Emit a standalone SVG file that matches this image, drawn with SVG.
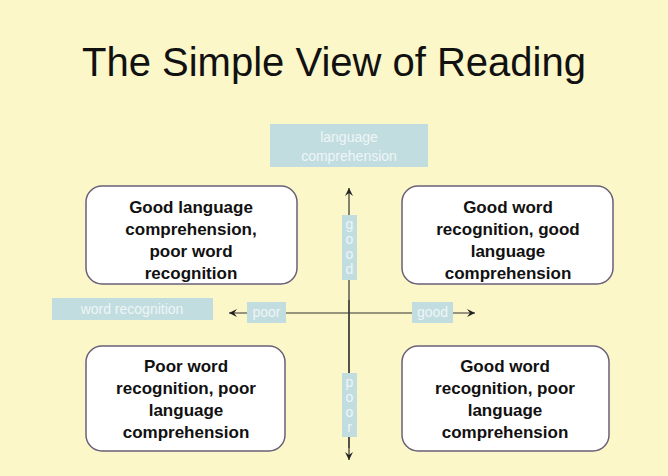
<svg xmlns="http://www.w3.org/2000/svg" width="668" height="476" viewBox="0 0 668 476">
<defs><marker id="a" markerWidth="10" markerHeight="10" refX="8" refY="5" orient="auto" markerUnits="userSpaceOnUse"><path d="M0,1 L8,5 L0,9 L3,5 Z" fill="#222"/></marker></defs>
<style>
.n{fill:#fff;stroke:#6a5f78;stroke-width:1.5}
.t{font-family:"Liberation Sans",Arial,sans-serif;font-weight:bold;font-size:17px;fill:#111;text-anchor:middle}
.l{fill:#c2dde0}
.lt{font-family:"Liberation Sans",Arial,sans-serif;font-size:14px;fill:#eef6f6;text-anchor:middle}
.ax{stroke:#333;stroke-width:1.2;fill:none}
</style>
<rect width="668" height="476" fill="#fcf7c8"/>
<text x="334" y="76" font-family="Liberation Sans,Arial,sans-serif" font-size="40" fill="#111" text-anchor="middle">The Simple View of Reading</text>
<g id="connectors">
<line class="ax" x1="349" y1="448" x2="349" y2="188" marker-end="url(#a)"/>
<line class="ax" x1="349" y1="300" x2="349" y2="460" marker-end="url(#a)"/>
<line class="ax" x1="349" y1="313" x2="475" y2="313" marker-end="url(#a)"/>
<line class="ax" x1="349" y1="313" x2="229" y2="313" marker-end="url(#a)"/>
</g>
<g id="lang-label"><rect class="l" x="270" y="124" width="158" height="43"/><text class="lt" x="349" y="142">language</text><text class="lt" x="349" y="161">comprehension</text></g>
<g id="word-label"><rect class="l" x="52" y="298" width="161" height="22"/><text class="lt" x="132" y="314">word recognition</text></g>
<g id="v-good"><rect class="l" x="342" y="215" width="15" height="65"/><text class="lt" font-size="12"><tspan x="349.5" y="229">g</tspan><tspan x="349.5" y="244">o</tspan><tspan x="349.5" y="259">o</tspan><tspan x="349.5" y="274">d</tspan></text></g>
<g id="v-poor"><rect class="l" x="342" y="373" width="15" height="64"/><text class="lt" font-size="12"><tspan x="349.5" y="387">p</tspan><tspan x="349.5" y="402">o</tspan><tspan x="349.5" y="417">o</tspan><tspan x="349.5" y="432">r</tspan></text></g>
<g id="h-poor"><rect class="l" x="247" y="302" width="39" height="21"/><text class="lt" x="266.5" y="317" font-size="12">poor</text></g>
<g id="h-good"><rect class="l" x="412" y="302" width="41" height="21"/><text class="lt" x="432.5" y="317" font-size="12">good</text></g>
<g id="tl"><rect class="n" x="86" y="186" width="211" height="98" rx="16"/><text class="t"><tspan x="191" y="213">Good language</tspan><tspan x="191" y="235">comprehension,</tspan><tspan x="191" y="257">poor word</tspan><tspan x="191" y="279">recognition</tspan></text></g>
<g id="tr"><rect class="n" x="402" y="186" width="211" height="98" rx="16"/><text class="t"><tspan x="508" y="213">Good word</tspan><tspan x="508" y="235">recognition, good</tspan><tspan x="508" y="257">language</tspan><tspan x="508" y="279">comprehension</tspan></text></g>
<g id="bl"><rect class="n" x="86" y="346" width="199" height="105" rx="16"/><text class="t"><tspan x="186" y="372">Poor word</tspan><tspan x="186" y="394">recognition, poor</tspan><tspan x="186" y="416">language</tspan><tspan x="186" y="438">comprehension</tspan></text></g>
<g id="br"><rect class="n" x="402" y="346" width="207" height="105" rx="16"/><text class="t"><tspan x="505" y="372">Good word</tspan><tspan x="505" y="394">recognition, poor</tspan><tspan x="505" y="416">language</tspan><tspan x="505" y="438">comprehension</tspan></text></g>
</svg>
